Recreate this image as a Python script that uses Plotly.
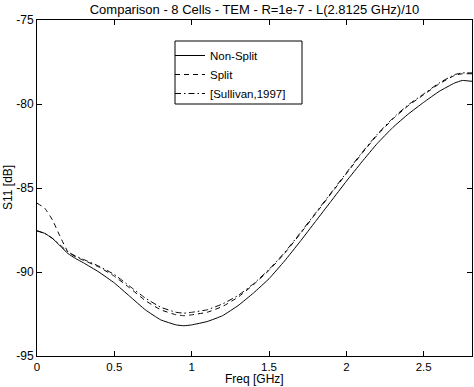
import plotly.graph_objects as go

freq = [0, 0.05, 0.1, 0.15, 0.2, 0.25, 0.3, 0.4, 0.5, 0.6, 0.7, 0.8, 0.9, 0.95, 1.0,
        1.1, 1.2, 1.3, 1.4, 1.5, 1.6, 1.7, 1.8, 1.9, 2.0, 2.1, 2.2, 2.3, 2.4, 2.5,
        2.6, 2.7, 2.75, 2.8125]

non_split = [-87.55, -87.7, -88.0, -88.45, -88.9, -89.2, -89.45, -90.0, -90.65, -91.45,
             -92.25, -92.85, -93.15, -93.2, -93.15, -92.95, -92.6, -92.0, -91.25, -90.4,
             -89.35, -88.2, -87.0, -85.8, -84.6, -83.45, -82.35, -81.4, -80.6, -79.9,
             -79.25, -78.75, -78.6, -78.65]

split = [-85.9, -86.2, -86.9, -87.9, -88.8, -89.1, -89.3, -89.7, -90.25, -90.95,
         -91.7, -92.25, -92.55, -92.6, -92.55, -92.4, -92.05, -91.5, -90.75, -89.9,
         -88.9, -87.75, -86.55, -85.35, -84.15, -82.95, -81.85, -80.9, -80.1, -79.45,
         -78.8, -78.3, -78.2, -78.2]

sullivan = [-87.55, -87.7, -88.0, -88.4, -88.8, -89.05, -89.25, -89.65, -90.15, -90.85,
            -91.55, -92.1, -92.4, -92.45, -92.4, -92.25, -91.9, -91.4, -90.7, -89.85,
            -88.85, -87.7, -86.5, -85.3, -84.1, -82.9, -81.8, -80.85, -80.05, -79.4,
            -78.75, -78.25, -78.15, -78.15]

x_tick_vals = [0, 0.5, 1, 1.5, 2, 2.5]
x_tick_text = ["0", "0.5", "1", "1.5", "2", "2.5"]
y_tick_vals = [-95, -90, -85, -80, -75]
y_tick_text = ["-95", "-90", "-85", "-80", "-75"]

FONT = "Liberation Sans, Arial, sans-serif"
L, R, T, B = 37, 2, 20, 31
W, H = 474, 387
PW, PH = W - L - R, H - T - B


def px_x(p):
    return (p - L) / PW


def px_y(p):
    return (H - B - p) / PH


fig = go.Figure()
fig.add_trace(go.Scatter(x=freq, y=non_split, mode="lines", name="Non-Split",
                         line=dict(color="black", width=1, shape="spline", smoothing=0.3)))
fig.add_trace(go.Scatter(x=freq, y=split, mode="lines", name="Split",
                         line=dict(color="black", width=1, dash="5px,4px", shape="spline", smoothing=0.3)))
fig.add_trace(go.Scatter(x=freq, y=sullivan, mode="lines", name="[Sullivan,1997]",
                         line=dict(color="black", width=1, dash="6px,3px,1.5px,3px", shape="spline", smoothing=0.3)))

# legend frame
fig.add_shape(type="rect", xref="paper", yref="paper",
              x0=px_x(175), x1=px_x(302), y0=px_y(104), y1=px_y(41),
              line=dict(color="black", width=1), fillcolor="white", layer="above")

fig.add_annotation(text="Freq [GHz]", xref="paper", yref="paper",
                   x=px_x(254), y=px_y(387), xanchor="center", yanchor="bottom",
                   borderpad=0, showarrow=False,
                   font=dict(family=FONT, size=12, color="black"))
fig.add_annotation(text="S11 [dB]", xref="paper", yref="paper",
                   x=px_x(8), y=px_y(188), xanchor="center", yanchor="middle",
                   textangle=-90, showarrow=False,
                   font=dict(family=FONT, size=12, color="black"))

fig.update_layout(
    width=W, height=H,
    margin=dict(l=L, r=R, t=T, b=B, autoexpand=False),
    paper_bgcolor="white", plot_bgcolor="white",
    font=dict(family=FONT, size=12, color="black"),
    title=dict(text="Comparison - 8 Cells - TEM - R=1e-7 - L(2.8125 GHz)/10",
               x=254.5 / W, xanchor="center", y=1 - 9 / H, yanchor="middle",
               font=dict(family=FONT, size=13, color="black")),
    showlegend=True,
    legend=dict(x=px_x(170), y=px_y(41), xanchor="left", yanchor="top",
                bgcolor="rgba(0,0,0,0)", borderwidth=0,
                font=dict(family=FONT, size=11.5, color="black"),
                tracegroupgap=0, itemwidth=30),
    xaxis=dict(range=[0, 2.8125], tickvals=x_tick_vals, ticktext=x_tick_text,
               ticks="inside", ticklen=5, tickcolor="black", showline=True,
               linecolor="black", linewidth=1, mirror="ticks", showgrid=False,
               zeroline=False, automargin=False, ticklabelstandoff=0,
               tickfont=dict(family=FONT, size=11.5)),
    yaxis=dict(range=[-95, -75], tickvals=y_tick_vals, ticktext=y_tick_text,
               ticks="inside", ticklen=5, tickcolor="black", showline=True,
               linecolor="black", linewidth=1, mirror="ticks", showgrid=False,
               zeroline=False, automargin=False,
               tickfont=dict(family=FONT, size=12)),
)

fig.write_html("out.html", config={"displayModeBar": False},
               post_script="document.body.style.margin='0';")
